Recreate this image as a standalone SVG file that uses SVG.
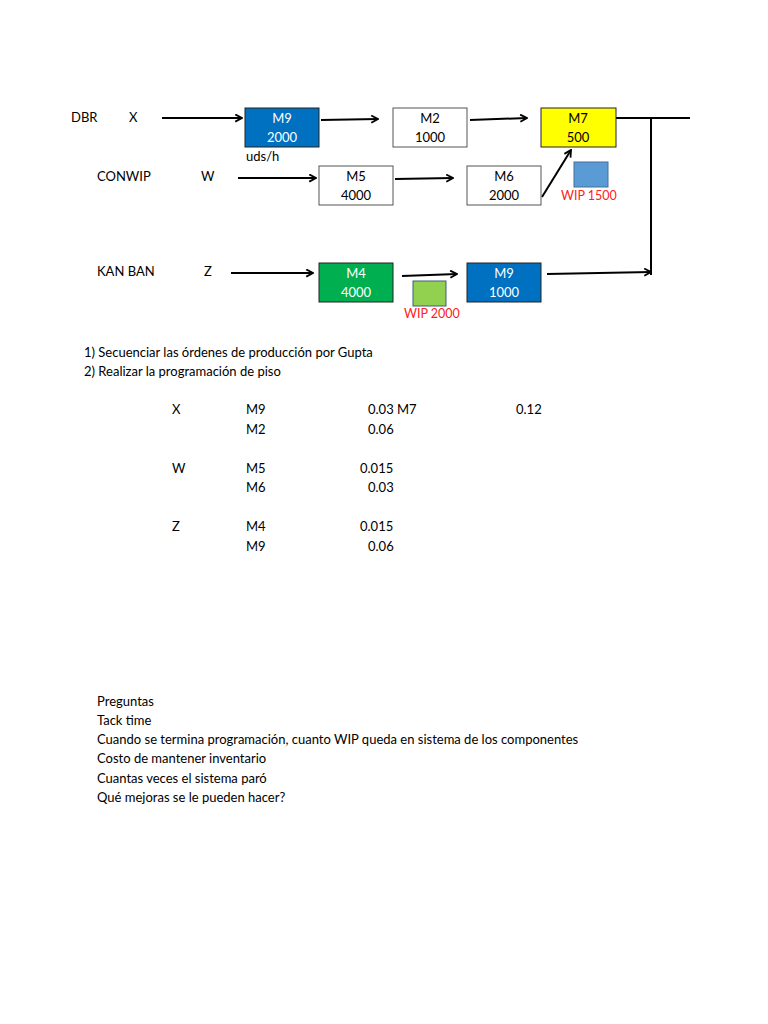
<svg xmlns="http://www.w3.org/2000/svg" width="768" height="1024" viewBox="0 0 768 1024">
<style>
text{font-family:Lato,"Liberation Sans",sans-serif;font-size:13px;fill:#000}
.c{text-anchor:middle}
.w{fill:#fff}
.r{fill:#ff2020;font-size:12.5px}
.box{stroke:#222;stroke-width:1}
.ln{stroke:#000;stroke-width:2;fill:none}
</style>
<defs>
<marker id="ah" viewBox="0 0 10 10" refX="9" refY="5" markerWidth="9" markerHeight="9" orient="auto" markerUnits="userSpaceOnUse">
<path d="M1.5,1 L9,5 L1.5,9" fill="none" stroke="#000" stroke-width="2"/>
</marker>
</defs>
<rect width="768" height="1024" fill="#fff"/>

<g id="labels">
<text x="71" y="122">DBR</text>
<text x="129" y="122">X</text>
<text x="97" y="181">CONWIP</text>
<text x="201" y="181">W</text>
<text x="97" y="276">KAN BAN</text>
<text x="204" y="276">Z</text>
<text x="246" y="161">uds/h</text>
</g>

<g id="connectors">
<line class="ln" x1="162" y1="118" x2="242" y2="118" marker-end="url(#ah)"/>
<line class="ln" x1="321" y1="120" x2="378" y2="119" marker-end="url(#ah)"/>
<line class="ln" x1="470" y1="120" x2="527" y2="118" marker-end="url(#ah)"/>
<line class="ln" x1="616" y1="118" x2="690" y2="118"/>
<line class="ln" x1="651" y1="118" x2="651" y2="275"/>
<line class="ln" x1="238" y1="178" x2="316" y2="178" marker-end="url(#ah)"/>
<line class="ln" x1="395" y1="179" x2="453" y2="178" marker-end="url(#ah)"/>
<line class="ln" x1="542" y1="197" x2="571" y2="150" marker-end="url(#ah)"/>
<line class="ln" x1="231" y1="273" x2="313" y2="273" marker-end="url(#ah)"/>
<line class="ln" x1="402" y1="276" x2="457" y2="274" marker-end="url(#ah)"/>
<line class="ln" x1="547" y1="274" x2="651" y2="272" marker-end="url(#ah)"/>
</g>

<g id="m9a">
<rect class="box" x="245" y="108" width="74" height="39" fill="#0070C0"/>
<text class="c w" x="282" y="123">M9</text>
<text class="c w" x="282" y="142">2000</text>
</g>
<g id="m2">
<rect x="393" y="108" width="74" height="39" fill="#fff" stroke="#555"/>
<text class="c" x="430" y="123">M2</text>
<text class="c" x="430" y="142">1000</text>
</g>
<g id="m7">
<rect class="box" x="541" y="108" width="75" height="39" fill="#FFFF00"/>
<text class="c" x="578" y="123">M7</text>
<text class="c" x="578" y="142">500</text>
</g>
<g id="m5">
<rect x="319" y="166" width="74" height="39" fill="#fff" stroke="#555"/>
<text class="c" x="356" y="181">M5</text>
<text class="c" x="356" y="200">4000</text>
</g>
<g id="m6">
<rect x="467" y="166" width="74" height="39" fill="#fff" stroke="#555"/>
<text class="c" x="504" y="181">M6</text>
<text class="c" x="504" y="200">2000</text>
</g>
<g id="wip1500">
<rect x="574" y="162" width="34" height="25" fill="#5B9BD5" stroke="#41719C"/>
<text class="r" x="561" y="199.5">WIP 1500</text>
</g>
<g id="m4">
<rect class="box" x="319" y="263" width="74" height="39" fill="#00B050"/>
<text class="c w" x="356" y="278">M4</text>
<text class="c w" x="356" y="297">4000</text>
</g>
<g id="wip2000">
<rect x="413" y="281" width="33" height="25" fill="#92D050" stroke="#3F5E7A"/>
<text class="r" x="404" y="318">WIP 2000</text>
</g>
<g id="m9b">
<rect class="box" x="467" y="263" width="74" height="39" fill="#0070C0"/>
<text class="c w" x="504" y="278">M9</text>
<text class="c w" x="504" y="297">1000</text>
</g>

<g id="instructions">
<text x="84" y="357">1) Secuenciar las órdenes de producción por Gupta</text>
<text x="84" y="376">2) Realizar la programación de piso</text>
</g>

<g id="table">
<text x="172" y="414">X</text>
<text x="246" y="414">M9</text>
<text x="368" y="414">0.03 M7</text>
<text x="516" y="414">0.12</text>
<text x="246" y="434">M2</text>
<text x="368" y="434">0.06</text>
<text x="172" y="473">W</text>
<text x="246" y="473">M5</text>
<text x="360" y="473">0.015</text>
<text x="246" y="492">M6</text>
<text x="368" y="492">0.03</text>
<text x="172" y="531">Z</text>
<text x="246" y="531">M4</text>
<text x="360" y="531">0.015</text>
<text x="246" y="551">M9</text>
<text x="368" y="551">0.06</text>
</g>

<g id="questions">
<text x="97" y="706">Preguntas</text>
<text x="97" y="725">Tack time</text>
<text x="97" y="744">Cuando se termina programación, cuanto WIP queda en sistema de los componentes</text>
<text x="97" y="763">Costo de mantener inventario</text>
<text x="97" y="783">Cuantas veces el sistema paró</text>
<text x="97" y="802">Qué mejoras se le pueden hacer?</text>
</g>
</svg>
